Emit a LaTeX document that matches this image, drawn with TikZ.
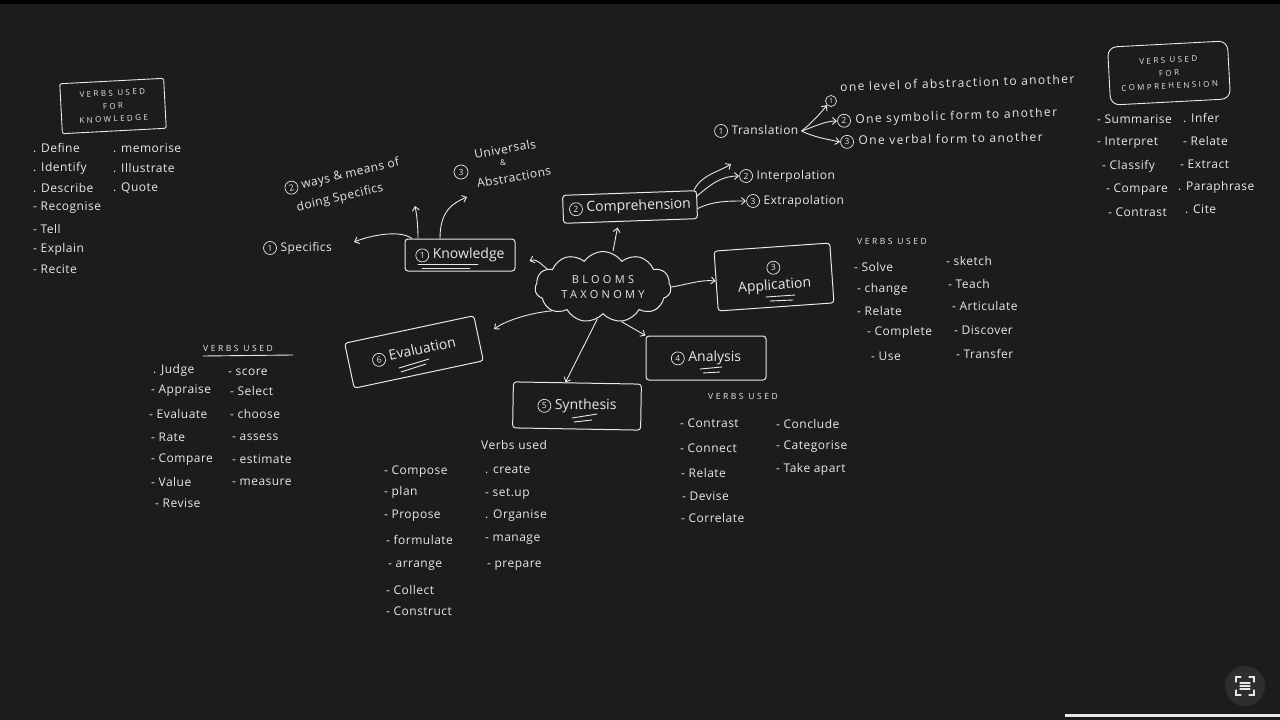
\documentclass[tikz,border=0pt]{standalone}
\usepackage{fontspec}
\setmainfont{Open Sans}
\usetikzlibrary{shapes.symbols,arrows.meta}
\definecolor{board}{HTML}{1C1C1E}
\definecolor{chalk}{HTML}{E8E8E8}
\definecolor{uigrey}{HTML}{2E2E30}
\newcommand{\cn}[1]{\tikz[baseline=(cnn.base)]\node[circle,draw=chalk,line width=0.7pt,inner sep=0pt,minimum size=13pt,text=chalk,font=\fontsize{8.5}{8.5}\selectfont](cnn){#1};}
\begin{document}
\begin{tikzpicture}[x=1pt,y=-1pt,
  lst/.style={anchor=west,inner sep=0pt,text=chalk,font=\fontsize{12}{14}\selectfont\addfontfeature{LetterSpace=4}},
  wide/.style={anchor=west,inner sep=0pt,text=chalk,font=\fontsize{12}{14}\selectfont\addfontfeature{LetterSpace=12}},
  capt/.style={inner sep=0pt,text=chalk,font=\fontsize{8}{13}\selectfont\addfontfeature{LetterSpace=30}},
  topic/.style={draw=chalk,line width=1pt,text=chalk,rounded corners=3pt,inner sep=4pt,font=\fontsize{14}{17}\selectfont},
  numc/.style={circle,draw=chalk,line width=0.7pt,inner sep=0pt,minimum size=14pt,text=chalk,font=\fontsize{8.5}{8.5}\selectfont},
  arr/.style={draw=chalk,line width=0.9pt,-{Straight Barb[length=4pt,width=7pt]}},
  ul/.style={draw=chalk,line width=0.9pt,line cap=round}]
% background
\fill[board] (0,0) rectangle (1280,720);
\fill[black] (0,0) rectangle (1280,4);
\useasboundingbox (0,0) rectangle (1280,720);

% ---------- Knowledge verbs ----------
\node[capt,draw=chalk,line width=0.9pt,rounded corners=2pt,minimum width=104pt,minimum height=50pt,align=center,rotate=3] (kvh) at (113,106) {VERBS USED\\FOR\\KNOWLEDGE};
\node[lst] (k1) at (33,148) {. Define};
\node[lst] (k2) at (33,168) {. Identify};
\node[lst] (k3) at (33,188) {. Describe};
\node[lst] (k4) at (33,208) {- Recognise};
\node[lst] (k5) at (33,229) {- Tell};
\node[lst] (k6) at (33,249) {- Explain};
\node[lst] (k7) at (33,269) {- Recite};
\node[lst] (k8) at (113,148) {. memorise};
\node[lst] (k9) at (113,168) {. Illustrate};
\node[lst] (k10) at (113,188) {. Quote};

% ---------- Knowledge ----------
\node[topic,minimum width=110pt,minimum height=32pt] (know) at (460,255) {\cn{1} Knowledge};
\draw[ul] (418,264) -- (478,264);
\draw[ul] (422,268) -- (470,268);
\node[lst] (spec) at (263,248) {\cn{1} Specifics};
\node[lst,anchor=center,rotate=13] (ways1) at (342,176) {\cn{2} ways \& means of};
\node[lst,anchor=center,rotate=13] (ways2) at (340,198) {doing Specifics};
\node[numc] (uninum) at (461,172) {3};
\node[lst,anchor=center,rotate=10] (uni1) at (505,149) {Universals};
\node[lst,anchor=center,font=\fontsize{8}{8}\selectfont] (uni2) at (503,163) {\&};
\node[lst,anchor=center,rotate=10] (uni3) at (514,177) {Abstractions};
\coordinate (kup) at (415,206);
\coordinate (kuni) at (467,197);
\draw[arr] ([xshift=-48pt]know.north) .. controls +(-14,-10) and +(12,-5) .. ([xshift=22pt,yshift=6pt]spec.east);
\draw[arr] ([xshift=-42pt]know.north) .. controls +(0,-12) and +(2,10) .. (kup);
\draw[arr] ([xshift=-20pt]know.north) .. controls +(0,-28) and +(-14,6) .. (kuni);

% ---------- Comprehension ----------
\node[topic,minimum width=134pt,minimum height=28pt,rotate=2] (comp) at (630,207) {\cn{2} Comprehension};
\node[lst] (trans) at (714,131) {\cn{1} Translation};
\node[numc,minimum size=11pt,font=\fontsize{7}{7}\selectfont] (t1num) at (831,101) {1};
\node[wide,rotate=2] (t1) at (840,87) {one level of abstraction to another};
\node[wide,rotate=2] (t2) at (837,121) {\cn{2} One symbolic form to another};
\node[wide,rotate=1] (t3) at (840,142) {\cn{3} One verbal form to another};
\draw[arr] ([xshift=3pt]trans.east) .. controls +(8,-6) and +(-6,8) .. (t1num.south west);
\draw[arr] ([xshift=3pt]trans.east) .. controls +(12,-4) and +(-12,0) .. (t2.west);
\draw[arr] ([xshift=3pt]trans.east) .. controls +(12,6) and +(-14,-3) .. (t3.west);
\node[lst] (interp) at (739,176) {\cn{2} Interpolation};
\node[lst] (extrap) at (746,201) {\cn{3} Extrapolation};
\coordinate (ctrans) at (731,164);
\draw[arr] ([xshift=-3pt]comp.north east) .. controls +(8,-16) and +(-12,8) .. (ctrans);
\draw[arr] ([yshift=-6pt]comp.north east) .. controls +(16,-14) and +(-16,0) .. (interp.west);
\draw[arr] ([yshift=-4pt]comp.east) .. controls +(16,-8) and +(-16,0) .. (extrap.west);

% ---------- Comprehension verbs ----------
\node[capt,draw=chalk,line width=0.9pt,rounded corners=9pt,minimum width=120pt,minimum height=58pt,align=center,rotate=3] (cvh) at (1169,73) {VERS USED\\FOR\\COMPREHENSION};
\node[lst] (c1) at (1097,119) {- Summarise};
\node[lst] (c2) at (1097,143) {- Interpret};
\node[lst] (c3) at (1102,166) {- Classify};
\node[lst] (c4) at (1106,190) {- Compare};
\node[lst] (c5) at (1108,212) {- Contrast};
\node[lst] (c6) at (1183,118) {. Infer};
\node[lst] (c7) at (1183,141) {- Relate};
\node[lst] (c8) at (1180,164) {- Extract};
\node[lst] (c9) at (1178,187) {. Paraphrase};
\node[lst] (c10) at (1185,209) {. Cite};

% ---------- Cloud ----------
\node[cloud,cloud puffs=11,cloud puff arc=110,aspect=2.1,draw=chalk,line width=1pt,minimum width=136pt,minimum height=64pt,align=center,text=chalk,inner sep=0pt,font=\fontsize{11}{15}\selectfont\addfontfeature{LetterSpace=30}] (cloud) at (603,287) {BLOOMS\\TAXONOMY};

% ---------- Application ----------
\node[topic,minimum width=116pt,minimum height=60pt,align=center,rotate=4] (app) at (774,277) {\cn{3}\\[2pt]Application};
\draw[ul] (766,297) -- (795,295);
\draw[ul] (770,301) -- (793,300);
\node[capt,anchor=west,font=\fontsize{8.5}{10}\selectfont\addfontfeature{LetterSpace=30}] (avh) at (857,241) {VERBS USED};
\node[lst] (a1) at (854,267) {- Solve};
\node[lst] (a2) at (857,289) {- change};
\node[lst] (a3) at (857,311) {- Relate};
\node[lst] (a4) at (867,332) {- Complete};
\node[lst] (a5) at (871,356) {- Use};
\node[lst] (a6) at (946,261) {- sketch};
\node[lst] (a7) at (948,284) {- Teach};
\node[lst] (a8) at (952,306) {- Articulate};
\node[lst] (a9) at (954,330) {- Discover};
\node[lst] (a10) at (956,354) {- Transfer};

% ---------- Analysis ----------
\node[topic,minimum width=120pt,minimum height=44pt] (ana) at (706,358) {\cn{4} Analysis};
\draw[ul] (700,369) -- (722,367);
\draw[ul] (703,373) -- (720,372);
\node[capt,anchor=west,font=\fontsize{8.5}{10}\selectfont\addfontfeature{LetterSpace=30}] (anh) at (708,396) {VERBS USED};
\node[lst] (n1) at (680,423) {- Contrast};
\node[lst] (n2) at (680,448) {- Connect};
\node[lst] (n3) at (681,473) {- Relate};
\node[lst] (n4) at (682,496) {- Devise};
\node[lst] (n5) at (681,518) {- Correlate};
\node[lst] (n6) at (776,424) {- Conclude};
\node[lst] (n7) at (776,447) {- Categorise};
\node[lst] (n8) at (776,469) {- Take apart};

% ---------- Synthesis ----------
\node[topic,minimum width=128pt,minimum height=46pt,rotate=-1] (syn) at (577,406) {\cn{5} Synthesis};
\draw[ul] (572,418) -- (597,414);
\draw[ul] (574,422) -- (592,420);
\node[lst] (svh) at (481,445) {Verbs used};
\node[lst] (s1) at (384,472) {- Compose};
\node[lst] (s2) at (384,492) {- plan};
\node[lst] (s3) at (384,516) {- Propose};
\node[lst] (s4) at (386,540) {- formulate};
\node[lst] (s5) at (388,566) {- arrange};
\node[lst] (s6) at (386,590) {- Collect};
\node[lst] (s7) at (386,611) {- Construct};
\node[lst] (s8) at (485,470) {. create};
\node[lst] (s9) at (485,494) {- set.up};
\node[lst] (s10) at (485,516) {. Organise};
\node[lst] (s11) at (485,540) {- manage};
\node[lst] (s12) at (487,566) {- prepare};

% ---------- Evaluation ----------
\node[topic,minimum width=132pt,minimum height=46pt,rotate=12] (eval) at (414,352) {\cn{6} Evaluation};
\draw[ul] (399,368) -- (429,359);
\draw[ul] (401,372) -- (426,364);
\node[capt,anchor=west,font=\fontsize{8.5}{10}\selectfont\addfontfeature{LetterSpace=30}] (evh) at (203,348) {VERBS USED};
\draw[ul] (203,356) -- (293,355);
\node[lst] (e1) at (153,370) {. Judge};
\node[lst] (e2) at (151,391) {- Appraise};
\node[lst] (e3) at (149,414) {- Evaluate};
\node[lst] (e4) at (151,437) {- Rate};
\node[lst] (e5) at (151,460) {- Compare};
\node[lst] (e6) at (151,482) {- Value};
\node[lst] (e7) at (155,503) {- Revise};
\node[lst] (e8) at (228,372) {- score};
\node[lst] (e9) at (230,391) {- Select};
\node[lst] (e10) at (230,414) {- choose};
\node[lst] (e11) at (232,437) {- assess};
\node[lst] (e12) at (232,459) {- estimate};
\node[lst] (e13) at (232,482) {- measure};

% ---------- cloud connectors ----------
\draw[arr] ([xshift=10pt]cloud.north) -- ([xshift=-13pt,yshift=-6pt]comp.south);
\draw[arr] (cloud.162) .. controls +(-6,-4) and +(8,-3) .. ([xshift=14pt,yshift=-6pt]know.east);
\draw[arr] (cloud.east) .. controls +(14,-2) and +(-14,-2) .. (app.west);
\draw[arr] (cloud.-62) -- (ana.north west);
\draw[arr] (cloud.-100) -- ([xshift=-12pt]syn.north);
\draw[arr] (cloud.205) .. controls +(-22,2) and +(10,-8) .. ([xshift=15pt,yshift=9pt]eval.east);

% ---------- screen overlay ----------
\node[circle,fill=uigrey,minimum size=40pt,inner sep=0pt] (ui) at (1245,686) {};
\draw[chalk,line width=1.2pt,line cap=round] ([xshift=-9pt,yshift=4pt]ui.center) -- ([xshift=-9pt,yshift=9pt]ui.center) -- ([xshift=-4pt,yshift=9pt]ui.center);
\draw[chalk,line width=1.2pt,line cap=round] ([xshift=9pt,yshift=4pt]ui.center) -- ([xshift=9pt,yshift=9pt]ui.center) -- ([xshift=4pt,yshift=9pt]ui.center);
\draw[chalk,line width=1.2pt,line cap=round] ([xshift=-9pt,yshift=-4pt]ui.center) -- ([xshift=-9pt,yshift=-9pt]ui.center) -- ([xshift=-4pt,yshift=-9pt]ui.center);
\draw[chalk,line width=1.2pt,line cap=round] ([xshift=9pt,yshift=-4pt]ui.center) -- ([xshift=9pt,yshift=-9pt]ui.center) -- ([xshift=4pt,yshift=-9pt]ui.center);
\draw[chalk,line width=1.2pt,line cap=round] ([xshift=-5pt,yshift=3pt]ui.center) -- ([xshift=5pt,yshift=3pt]ui.center);
\draw[chalk,line width=1.2pt,line cap=round] ([xshift=-5pt]ui.center) -- ([xshift=5pt]ui.center);
\draw[chalk,line width=1.2pt,line cap=round] ([xshift=-5pt,yshift=-3pt]ui.center) -- ([xshift=5pt,yshift=-3pt]ui.center);
\fill[chalk] (1065,714) rectangle (1280,717);
\end{tikzpicture}
\end{document}
